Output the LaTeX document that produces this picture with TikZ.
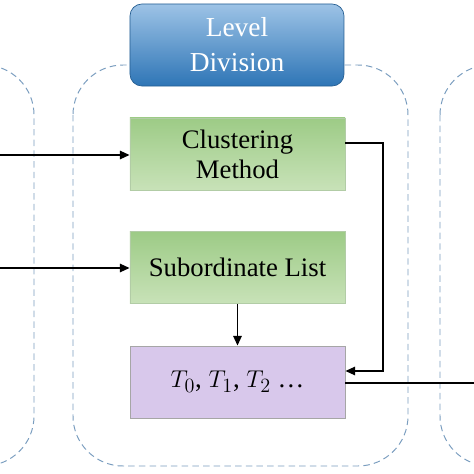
\documentclass[tikz,border=0pt]{standalone}
\usepackage{fontspec}
\setmainfont{Liberation Serif}
\usepackage{xcolor}
\definecolor{levelblue}{HTML}{2E75B6}
\definecolor{levellight}{HTML}{9DC3E6}
\definecolor{stepgreen}{HTML}{9DCB86}
\definecolor{steplight}{HTML}{C8E2B8}
\definecolor{stepedge}{HTML}{B2CCA6}
\definecolor{listpurple}{HTML}{D8C8EB}
\definecolor{groupline}{HTML}{7A9DBF}
\usepackage{tikz}
\usetikzlibrary{arrows.meta, positioning}

\begin{document}
\begin{tikzpicture}[x=0.025cm, y=-0.025cm,
  font=\fontsize{19}{21.5}\selectfont,
  group/.style={draw=groupline, line width=0.7pt, dash pattern=on 4.6pt off 3pt, rounded corners=1.25cm},
  stagebox/.style={draw=stepedge, line width=0.6pt, top color=stepgreen, bottom color=steplight,
    minimum width=5.375cm, minimum height=1.8cm, align=center, inner sep=0pt},
  resultbox/.style={draw=black!35, line width=0.6pt, fill=listpurple,
    minimum width=5.375cm, minimum height=1.8cm, inner sep=0pt},
  titlebox/.style={draw=levelblue!80!black, line width=0.5pt, top color=levellight, bottom color=levelblue,
    rounded corners=0.3cm, minimum width=5.35cm, minimum height=2.05cm, align=center, text=white,
    font=\fontsize{19.5}{25}\selectfont, inner sep=0pt},
  flow/.style={line width=1.1pt, -{Triangle[length=2.4mm, width=2.1mm]}}]
  \useasboundingbox (0,0) rectangle (474,474);
  \clip (0,0) rectangle (474,474);
  % the three groups
  \draw[group] (-300,65) rectangle (34,466);
  \draw[group] (73,65) rectangle (408,466);
  \draw[group] (440,65) rectangle (780,466);
  \node[titlebox] (level) at (237,45) {Level\\Division};
  % steps
  \node[stagebox] (cluster) at (237.5,154) {Clustering\\Method};
  \node[stagebox] (sublist) at (237.5,267.5) {Subordinate List};
  \node[resultbox] (tlist) at (237.5,382) {$T_0$, $T_1$, $T_2$ \dots};
  \coordinate (inA) at (0,155);
  \coordinate (inB) at (0,268);
  \coordinate (outR) at (474,383);
  \coordinate (bend) at (383,143);
  % connectors
  \draw[flow] (inA) -- (inA -| cluster.west);
  \draw[flow] (inB) -- (inB -| sublist.west);
  \draw[flow] (sublist.south) -- (tlist.north);
  \draw[flow, rounded corners=0pt] (bend -| cluster.east) -- (bend) |- ([yshift=0.275cm]tlist.east);
  \draw[line width=1.1pt] (outR -| tlist.east) -- (outR);
\end{tikzpicture}
\end{document}
